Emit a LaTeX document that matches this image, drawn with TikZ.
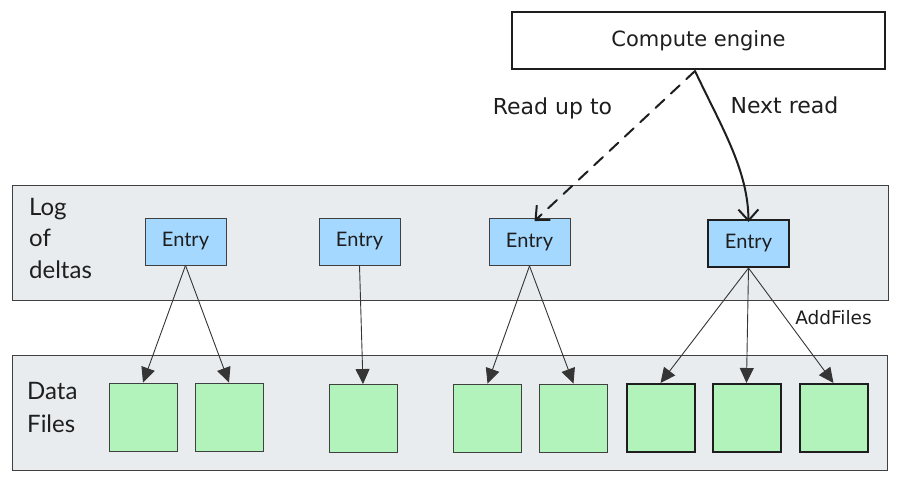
\documentclass[tikz,border=0pt]{standalone}
\usepackage{fontspec}
\setmainfont{Lato}
\newfontfamily\handfont{DejaVu Sans}
\usetikzlibrary{arrows.meta}
\definecolor{panelfill}{HTML}{E9ECEF}
\definecolor{entryfill}{HTML}{A5D8FF}
\definecolor{filefill}{HTML}{B2F2BB}
\definecolor{ink}{HTML}{1E1E1E}
\tikzset{
  panel/.style={draw=ink!85, line width=0.9pt, fill=panelfill, rectangle, inner sep=0pt},
  entry/.style={draw=ink!85, line width=0.9pt, fill=entryfill, rectangle, minimum width=81pt, minimum height=47pt, inner sep=0pt, font=\fontsize{20}{23}\selectfont, text=ink},
  entrybold/.style={entry, draw=ink, line width=2pt},
  datafile/.style={draw=ink!85, line width=0.9pt, fill=filefill, rectangle, minimum width=68pt, minimum height=68pt, inner sep=0pt},
  datafilebold/.style={datafile, draw=ink, line width=2pt},
  engine/.style={draw=ink, line width=2pt, fill=white, rectangle, minimum width=373pt, minimum height=57pt, inner sep=0pt, font=\handfont\fontsize{21}{25}\selectfont, text=ink},
  lbl/.style={font=\fontsize{24}{31.5}\selectfont, text=ink, align=left, anchor=north west, inner sep=0pt},
  lblwide/.style={lbl, font=\fontsize{24}{33.5}\selectfont},
  hand/.style={font=\handfont\fontsize{22}{26}\selectfont, text=ink, inner sep=0pt},
  handsmall/.style={font=\handfont\fontsize{18.5}{22}\selectfont, text=ink, inner sep=0pt},
  arr/.style={draw=ink!90, line width=0.9pt, -{Triangle[length=15pt,width=14pt]}},
  sketcharr/.style={draw=ink, line width=2pt, line cap=round, -{Straight Barb[length=11pt,width=20pt]}},
}
\begin{document}
\begin{tikzpicture}[x=1pt,y=-1pt]
\useasboundingbox (0,0) rectangle (900,482);
% panels
\node[panel, minimum width=876pt, minimum height=115pt] (logpanel) at (450,242.5) {};
\node[panel, minimum width=875pt, minimum height=115pt] (datapanel) at (449.5,412.5) {};
\node[lbl] (loglbl) at (29,198) {Log\\of\\deltas};
\node[lblwide] (datalbl) at (27,382) {Data\\Files};
% compute engine
\node[engine] (engine) at (698.5,40.5) {Compute engine};
% entries
\node[entry] (e1) at (185.5,241.5) {Entry};
\node[entry] (e2) at (359.5,241.5) {Entry};
\node[entry] (e3) at (529.5,242) {Entry};
\node[entrybold] (e4) at (748.5,243.5) {Entry};
% data files
\node[datafile] (d1) at (143,417) {};
\node[datafile] (d2) at (229,417) {};
\node[datafile] (d3) at (363,418.5) {};
\node[datafile] (d4) at (487.5,418) {};
\node[datafile] (d5) at (573.5,418) {};
\node[datafilebold] (d6) at (660.5,418) {};
\node[datafilebold] (d7) at (746.5,418) {};
\node[datafilebold] (d8) at (833.5,418) {};
% arrows entries -> files
\draw[arr] (e1.south) -- (d1.north);
\draw[arr] (e1.south) -- (d2.north);
\draw[arr] (e2.south) -- (d3.north);
\draw[arr] (e3.south) -- (d4.north);
\draw[arr] (e3.south) -- (d5.north);
\draw[arr] (e4.south) -- (d6.north);
\draw[arr] (e4.south) -- (d7.north);
\draw[arr] (e4.south) -- (d8.north);
\node[handsmall] (addfiles) at (833.5,318) {AddFiles};
% engine arrows
\coordinate (src) at (695,71);
\draw[sketcharr, dashed, dash pattern=on 12pt off 9pt] (src) -- ([xshift=5pt,yshift=-3pt]e3.north);
\draw[sketcharr] (src) .. controls (722,128) and (748,170) .. ([yshift=-3pt]e4.north);
\node[hand] (readupto) at (552.5,108) {Read up to};
\node[hand] (nextread) at (784.5,105) {Next read};
\end{tikzpicture}
\end{document}
